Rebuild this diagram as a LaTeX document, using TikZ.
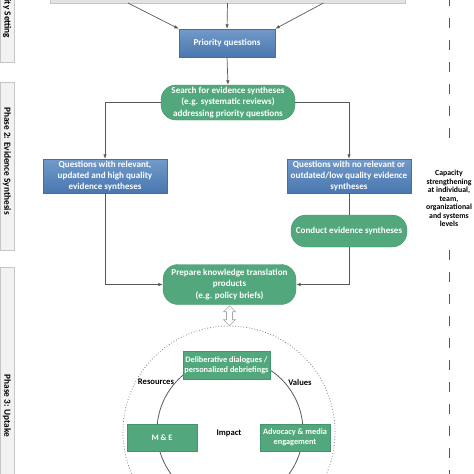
\documentclass[tikz,border=0pt]{standalone}
\usepackage{fontspec}
\setmainfont{Carlito}
\usetikzlibrary{arrows.meta, calc}
\definecolor{boxblue}{RGB}{79, 129, 189}
\definecolor{boxblueedge}{RGB}{65, 113, 160}
\definecolor{boxgreen}{RGB}{82, 168, 124}
\definecolor{boxgreenedge}{RGB}{68, 148, 108}
\definecolor{linegray}{RGB}{89, 89, 89}
\definecolor{tabgray}{RGB}{242, 242, 242}

\tikzset{
  bluebox/.style={draw=boxblueedge, top color=boxblue!80!white, bottom color=boxblue!92!black,
    text=white, align=center, inner sep=1pt, font=\fontsize{9.1}{10.8}\selectfont\bfseries},
  greenpill/.style={draw=boxgreenedge, fill=boxgreen, rounded corners=15pt,
    text=white, align=center, inner sep=1pt, font=\fontsize{9.1}{11.2}\selectfont\bfseries},
  greenbox/.style={draw=boxgreenedge, fill=boxgreen, text=white, align=center,
    inner sep=1pt, font=\fontsize{8.3}{9.8}\selectfont\bfseries},
  flow/.style={draw=linegray, line width=0.7pt, -{Latex[length=4.5pt, width=3.5pt]}},
  plainflow/.style={draw=linegray, line width=0.7pt},
  phasetab/.style={rectangle, draw=gray!45, fill=tabgray, minimum width=14, inner sep=0pt},
  phaselabel/.style={rotate=-90, text=black, font=\fontsize{9.3}{10}\selectfont\bfseries},
  ringlabel/.style={text=black, font=\fontsize{8.6}{10}\selectfont\bfseries},
  caplabel/.style={text=black, align=center, font=\fontsize{7.8}{8.5}\selectfont\bfseries},
  capline/.style={draw=linegray, line width=0.7pt, dash pattern=on 10pt off 12pt},
  linkarrow/.style={draw=gray!70, fill=white, line width=0.6pt}
}

\begin{document}
\begin{tikzpicture}[x=1pt, y=-1pt]
  \useasboundingbox (0,0) rectangle (474,474);
  \clip (0,0) rectangle (474,474);

  % phase tabs on the left
  \node[phasetab, minimum height=200] (tab1) at (7,-38) {};
  \node[phasetab, minimum height=168] (tab2) at (7,166) {};
  \node[phasetab, minimum height=220] (tab3) at (7,377) {};
  \node[phaselabel] (lab1) at (7,-8) {Phase 1: Priority Setting};
  \node[phaselabel] (lab2) at (7,161) {Phase 2: Evidence Synthesis};
  \node[phaselabel] (lab3) at (7,406) {Phase 3: Uptake};

  % phase 1
  \node[draw=gray!45, fill=gray!22, minimum width=355, minimum height=40, anchor=south] (top) at (227.5,3) {};
  \coordinate (t1) at ($(top.south west)!0.22!(top.south east)$);
  \coordinate (t2) at ($(top.south west)!0.5!(top.south east)$);
  \coordinate (t3) at ($(top.south west)!0.77!(top.south east)$);
  \node[bluebox, minimum width=96, minimum height=28] (prio) at (227,43) {Priority questions};
  \draw[flow] (t1) -- (prio.north west);
  \draw[flow] (t2) -- (prio.north);
  \draw[flow] (t3) -- (prio.north east);

  % phase 2
  \node[greenpill, minimum width=134, minimum height=35] (search) at (228,102.5)
    {Search for evidence syntheses\\(e.g. systematic reviews)\\addressing priority questions};
  \node[bluebox, minimum width=124, minimum height=34] (qleft) at (105,176)
    {Questions with relevant,\\updated and high quality\\evidence syntheses};
  \node[bluebox, minimum width=124, minimum height=34] (qright) at (349,176)
    {Questions with no relevant or\\outdated/low quality evidence\\syntheses};
  \node[greenpill, minimum width=116, minimum height=32] (conduct) at (349,231) {Conduct evidence syntheses};
  \node[greenpill, minimum width=133, minimum height=40] (prepare) at (229.5,284.5)
    {Prepare knowledge translation\\products\\(e.g. policy briefs)};
  \draw[flow] (prio.south) -- (search.north);
  \draw[flow] (search.west) -| (qleft.north);
  \draw[flow] (search.east) -| (qright.north);
  \draw[plainflow] (qright.south) -- (conduct.north);
  \draw[flow] (qleft.south) |- (prepare.west);
  \draw[flow] (conduct.south) |- (prepare.east);

  % phase 3
  \node[circle, draw=gray, dotted, line width=0.8pt, minimum size=212] (outer) at (229,432) {};
  \node[circle, draw=linegray, line width=0.8pt, minimum size=146] (inner) at (230,431) {};
  \draw[linkarrow] ($(prepare.south)+(0,1)$) -- ++(6,6) -- ++(-3,0) -- ++(0,8) -- ++(3,0)
    -- ++(-6,6) -- ++(-6,-6) -- ++(3,0) -- ++(0,-8) -- ++(-3,0) -- cycle;
  \node[greenbox, minimum width=87, minimum height=28] (dialog) at (226.5,365)
    {Deliberative dialogues /\\personalized debriefings};
  \node[greenbox, minimum width=70, minimum height=27] (me) at (162,437.5) {M \& E};
  \node[greenbox, minimum width=70, minimum height=27] (advocacy) at (295,437.5)
    {Advocacy \& media\\engagement};
  \node[ringlabel] (resources) at (156,382) {Resources};
  \node[ringlabel] (values) at (300,383) {Values};
  \node[ringlabel] (impact) at (229,433) {Impact};

  % capacity strengthening
  \node[caplabel] (cap) at (449,198.5)
    {Capacity\\strengthening\\at individual,\\team,\\organizational\\and systems\\levels};
  \coordinate (dtop) at (449,-4);
  \coordinate (dbot) at (449,250);
  \draw[capline] (dtop) -- (dtop |- 0,145);
  \draw[capline] (dbot) -- (dbot |- 0,478);
\end{tikzpicture}
\end{document}
